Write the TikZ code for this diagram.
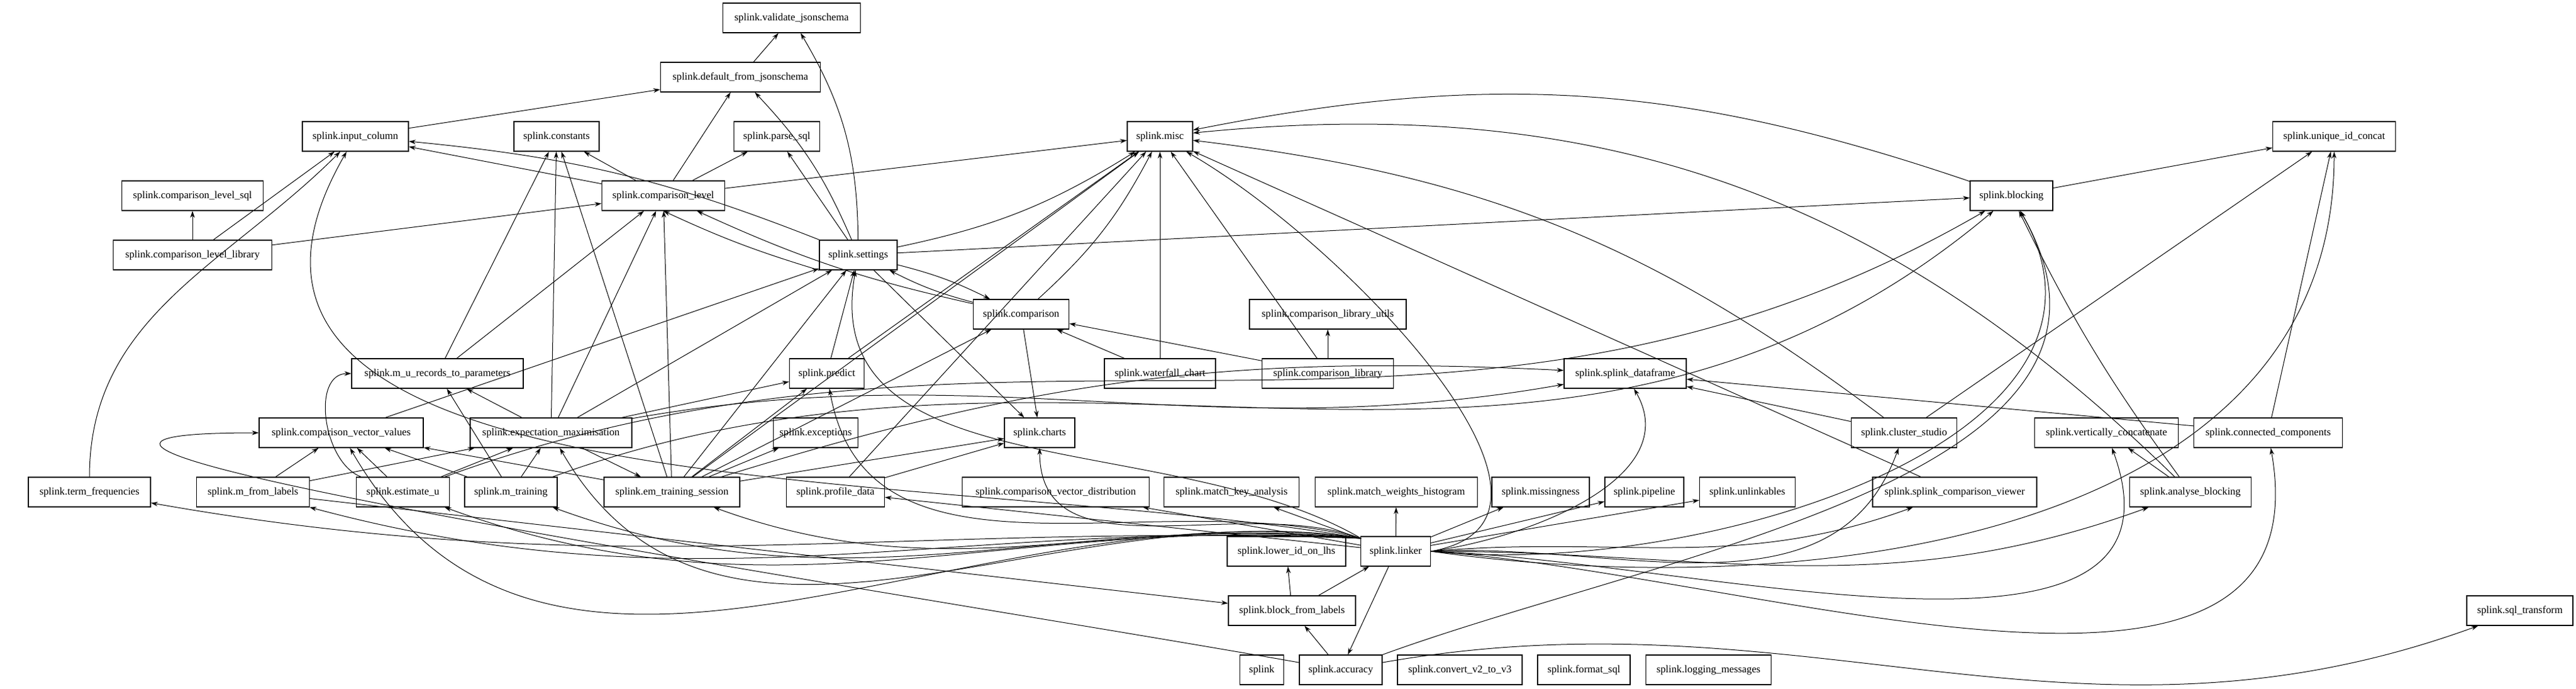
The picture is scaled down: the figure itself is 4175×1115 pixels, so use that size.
\documentclass[tikz,border=0pt]{standalone}
\usepackage{fontspec}
\setmainfont{Liberation Serif}
\usetikzlibrary{arrows.meta}
\begin{document}
\begin{tikzpicture}[x=0.25pt,y=-0.25pt,
  box/.style={draw,line width=0.3pt,minimum height=12pt,inner sep=0pt,font=\fontsize{4.2}{4.2}\selectfont},
  e/.style={-{Stealth[length=2.75pt,width=1.8pt]},line width=0.25pt}]
\useasboundingbox (0,0) rectangle (4175,1115);
\foreach \n/\x/\y/\w/\t in {
vj/1283/29/223/validate\_jsonschema, dfj/1200/125/259/default\_from\_jsonschema,
ic/576/221/172/input\_column, const/902/221/138/constants, psql/1259/221/139/parse\_sql,
misc/1880/221/106/misc, uic/3783/221/199/unique\_id\_concat,
cls/312/317/229/comparison\_level\_sql, cl/1075/317/199/comparison\_level, blk/3260/317/134/blocking,
cll/312/413/257/comparison\_level\_library, set/1391/413/126/settings,
cmp/1655/509/155/comparison, clu/2152/509/254/comparison\_library\_utils,
mu/709/605/278/m\_u\_records\_to\_parameters, pred/1340/605/121/predict, wf/1880/605/180/waterfall\_chart,
clib/2152/605/213/comparison\_library, sdf/2634/605/198/splink\_dataframe,
cvv/553/701/266/comparison\_vector\_values, em/893/701/262/expectation\_maximisation,
exc/1322/701/137/exceptions, charts/1685/701/114/charts, cs/3086/701/171/cluster\_studio,
vc/3414/701/233/vertically\_concatenate, cc/3676/701/241/connected\_components,
tf/145/797/198/term\_frequencies, mfl/410/797/183/m\_from\_labels, eu/653/797/151/estimate\_u,
mt/828/797/150/m\_training, ets/1089/797/220/em\_training\_session, pd/1354/797/159/profile\_data,
cvd/1711/797/303/comparison\_vector\_distribution, mka/1996/797/219/match\_key\_analysis,
mwh/2263/797/263/match\_weights\_histogram, miss/2497/797/158/missingness, pipe/2665/797/128/pipeline,
unl/2832/797/155/unlinkables, scv/3168/797/266/splink\_comparison\_viewer, ab/3550/797/197/analyse\_blocking,
lid/2085/893/192/lower\_id\_on\_lhs, lnk/2262/893/113/linker,
bfl/2094/989/206/block\_from\_labels, sqlt/4084/989/172/sql\_transform,
acc/2173/1085/134/accuracy, cv/2366/1085/202/convert\_v2\_to\_v3,
fsql/2567/1085/150/format\_sql, log/2769/1085/203/logging\_messages}
  \node[box,minimum width=\w*0.25pt] (\n) at (\x,\y) {splink.\t};
\node[box,minimum width=17.75pt] (spl) at (2045,1085) {splink};
\coordinate (lw) at (2206,872);
% straight edges
\foreach \a/\b in {dfj/vj, ic/dfj, cl/dfj, cll/cls, cll/ic, cll/cl, cl/ic, cl/const, cl/psql, cl/misc,
 set/psql, set/blk, set/charts, cmp/charts, clib/cmp, clib/clu, clib/misc,
 wf/misc, wf/cmp, pred/set, pred/misc, mu/const, mu/cl, cvv/set, em/const, em/cl, em/set, em/mu, em/pred,
 ets/const, ets/cl, ets/set, ets/misc, ets/pred, ets/exc, ets/charts, ets/cmp, ets/cvv, em/ets,
 mfl/cvv, mfl/em, mfl/bfl, eu/cvv, eu/em, mt/cvv, mt/em, mt/mu, pd/charts, pd/misc,
 bfl/lid, bfl/lnk, acc/bfl, lnk/acc, cs/sdf, cs/uic, cc/sdf, cc/uic, ab/vc, blk/uic, scv/misc,
 lnk/mka, lnk/mwh, lnk/miss, lnk/pipe, lnk/unl, lnk/cvd, lnk/pd}
  \draw[e] (\a) -- (\b);
% curved edges
\draw[e] (set) to[bend right=15] (vj);
\draw[e] (set) to[bend right=10] (dfj);
\draw[e] (set) to[bend right=8] (ic);
\draw[e] (set) to[bend right=10] (misc);
\draw[e] (set.south west) to[bend left=4] (cl.south);
\draw[e] (cmp) to[bend left=6] (cl);
\draw[e] (cmp) to[bend left=6] (set);
\draw[e] (set) to[bend left=6] (cmp);
\draw[e] (cmp) to[bend right=10] (misc);
\draw[e] (tf) to[out=90,in=-135] (ic);
\draw[e] (eu) to[out=160,in=180] (mu);
\draw[e] (ets) to[bend left=10] (sdf);
\draw[e] (em) to[out=10,in=190] (sdf);
\draw[e] (blk) to[bend right=15] (misc);
\draw[e] (cs) to[bend right=15] (misc);
\draw[e] (ab) to[bend right=25] (misc);
\draw[e] (ab) to[bend left=5] (blk);
\draw[e] (acc) to[out=170,in=180] (cvv.west);
\draw[e] (acc) to[out=10,in=200] (sqlt);
\draw[e] (acc) to[out=20,in=-60] (blk);
\draw[e] (eu) to[out=20,in=-150] (blk);
\draw[e] (mt) to[out=20,in=-140] (blk);
% linker edges
\foreach \t/\o/\i in {tf/178/-10, mfl/177/-15, eu/176/-20, mt/175/-20, ets/174/-20, cvv/172/-60, ic/170/-120, em/171/-60, charts/160/-90, pred/165/-80, set/150/-100}
  \draw[e] (lw) to[out=\o,in=\i] (\t);
\foreach \t/\o/\i in {scv/5/200, ab/0/200, cs/3/-110, vc/-2/-70, cc/-4/-80, blk/-6/-60, uic/-8/-90, sdf/8/-60, misc/10/-30}
  \draw[e] (lnk.east) to[out=\o,in=\i] (\t);
\end{tikzpicture}
\end{document}
